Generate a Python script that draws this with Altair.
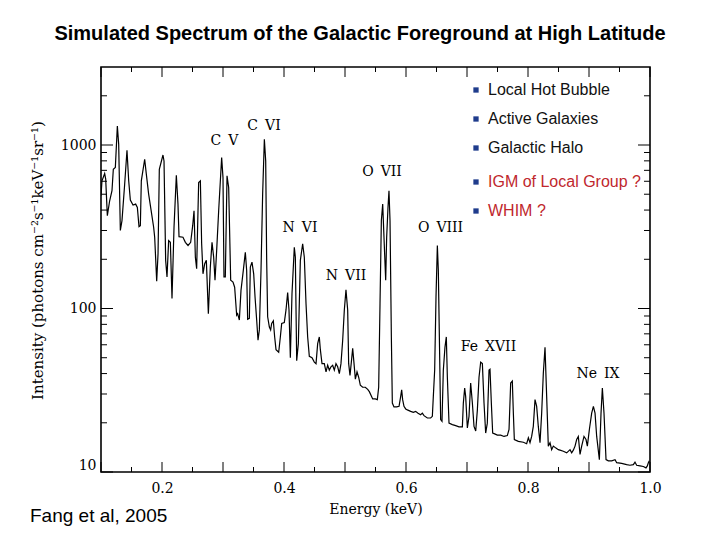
import altair as alt
import pandas as pd

# ---------------------------------------------------------------------------
# Simulated soft X-ray spectrum of the Galactic foreground (0.1 - 1.0 keV)
# ---------------------------------------------------------------------------

energy_low = [
    0.1000, 0.1016, 0.1060, 0.1077, 0.1104, 0.1142, 0.1180, 0.1202, 0.1235, 0.1268,
    0.1290, 0.1317, 0.1344, 0.1388, 0.1426, 0.1454, 0.1481, 0.1525, 0.1568, 0.1596,
    0.1623, 0.1645, 0.1661, 0.1716, 0.1743, 0.1781, 0.1814, 0.1863, 0.1880, 0.1913,
    0.1935, 0.1956, 0.2016, 0.2033, 0.2060, 0.2082, 0.2109, 0.2137, 0.2164, 0.2197,
    0.2235, 0.2262, 0.2279, 0.2344, 0.2383, 0.2427, 0.2470, 0.2503, 0.2525, 0.2547,
    0.2568, 0.2601, 0.2629, 0.2650, 0.2672, 0.2700, 0.2727, 0.2760, 0.2792, 0.2820,
    0.2847, 0.2869, 0.2896, 0.2929, 0.2978, 0.3000, 0.3016, 0.3038, 0.3066, 0.3093,
    0.3126, 0.3164, 0.3191, 0.3224,
]
intensity_low = [
    489, 604, 669, 618, 370, 456, 525, 711, 728, 1305,
    1009, 300, 345, 576, 928, 604, 460, 429, 435, 415,
    317, 321, 604, 818, 663, 501, 415, 314, 273, 147,
    216, 711, 869, 799, 197, 156, 260, 254, 115, 314,
    654, 435, 275, 273, 254, 243, 254, 321, 396, 206,
    175, 590, 604, 249, 163, 188, 197, 93, 179, 254,
    206, 149, 226, 396, 837, 632, 156, 156, 648, 550,
    149, 145, 135, 91,
]

energy_mid = [
    0.3240, 0.3268, 0.3295, 0.3333, 0.3366, 0.3388, 0.3404, 0.3432, 0.3448, 0.3475,
    0.3503, 0.3525, 0.3552, 0.3574, 0.3596, 0.3623, 0.3650, 0.3678, 0.3700, 0.3716,
    0.3732, 0.3760, 0.3781, 0.3798, 0.3825, 0.3847, 0.3869, 0.3913, 0.3940, 0.3962,
    0.4005, 0.4033, 0.4060, 0.4082, 0.4104, 0.4131, 0.4169, 0.4186, 0.4208, 0.4235,
    0.4268, 0.4306, 0.4333, 0.4361, 0.4388, 0.4415, 0.4459, 0.4497, 0.4525, 0.4552,
    0.4579, 0.4596, 0.4623, 0.4661, 0.4689, 0.4716, 0.4743, 0.4770, 0.4798, 0.4825,
    0.4852, 0.4880, 0.4907, 0.4934, 0.4962, 0.4989, 0.5016, 0.5044, 0.5060, 0.5082,
    0.5104, 0.5126, 0.5148, 0.5170, 0.5197, 0.5224, 0.5251, 0.5290, 0.5333, 0.5372,
    0.5399, 0.5454, 0.5497,
]
intensity_mid = [
    93, 85, 129, 171, 221, 171, 86, 87, 179, 192,
    163, 118, 85, 64, 74, 171, 501, 1083, 799, 197,
    89, 77, 74, 81, 84, 67, 56, 54, 67, 81,
    82, 98, 125, 98, 50, 123, 237, 206, 48, 61,
    197, 249, 206, 107, 67, 51, 50, 47, 46, 61,
    67, 56, 46, 46, 41, 45, 42, 44, 45, 42,
    46, 44, 40, 46, 64, 98, 130, 98, 46, 39,
    47, 57, 46, 37, 41, 38, 34, 33, 33, 32,
    31, 28, 28,
]

energy_oxygen = [
    0.5530, 0.5552, 0.5574, 0.5596, 0.5618, 0.5639, 0.5667, 0.5683, 0.5705, 0.5721,
    0.5738, 0.5760, 0.5776, 0.5803, 0.5847, 0.5886, 0.5913, 0.5929, 0.5945, 0.5967,
    0.5995, 0.6022, 0.6077, 0.6120, 0.6158, 0.6197, 0.6240, 0.6268, 0.6295, 0.6350,
    0.6404, 0.6432, 0.6448, 0.6470, 0.6492, 0.6514, 0.6530, 0.6547, 0.6568, 0.6590,
    0.6612, 0.6639, 0.6661, 0.6678, 0.6705, 0.6760, 0.6814, 0.6869, 0.6924, 0.6940,
    0.6962, 0.6978, 0.7006, 0.7033, 0.7060, 0.7088, 0.7115, 0.7143, 0.7170, 0.7197,
    0.7224, 0.7252, 0.7279, 0.7306, 0.7333, 0.7361, 0.7377, 0.7399, 0.7421, 0.7454,
    0.7497, 0.7552, 0.7607, 0.7661, 0.7689, 0.7716, 0.7743,
]
intensity_oxygen = [
    27.7, 33, 107, 345, 435, 273, 149, 273, 416, 525,
    345, 67, 26.4, 25, 25, 25.2, 29, 31.8, 27.7, 25.2,
    24.3, 24, 23.5, 23.2, 23.5, 22.9, 22.4, 22.9, 22.1, 21.4,
    21.4, 21.9, 29, 42, 118, 243, 171, 67, 20.9, 20.4,
    42, 58, 67, 38, 19.9, 19.5, 19.2, 18.9, 18.9, 26.4,
    32.6, 29, 18.6, 21.9, 35, 26.4, 19, 17.8, 24, 38,
    47, 46, 26.4, 17.3, 19.9, 42, 42.5, 26.4, 17.3, 17.1,
    16.8, 16.8, 16.5, 16.7, 18.2, 35, 36,
]

energy_high = [
    0.7760, 0.7776, 0.7842, 0.7924, 0.7978, 0.8006, 0.8033, 0.8060, 0.8087, 0.8115,
    0.8142, 0.8169, 0.8197, 0.8224, 0.8251, 0.8279, 0.8306, 0.8333, 0.8361, 0.8388,
    0.8415, 0.8459, 0.8497, 0.8525, 0.8579, 0.8634, 0.8689, 0.8716, 0.8743, 0.8771,
    0.8798, 0.8825, 0.8853, 0.8880, 0.8918, 0.8951, 0.8973, 0.9006, 0.9044, 0.9072,
    0.9099, 0.9126, 0.9170, 0.9197, 0.9219, 0.9246, 0.9279, 0.9317, 0.9372, 0.9427,
    0.9454, 0.9536, 0.9617, 0.9672, 0.9727, 0.9754, 0.9781, 0.9836, 0.9891, 0.9934,
    0.9956, 0.9973, 0.9989,
]
intensity_high = [
    22.9, 15.8, 15.4, 15.2, 14.9, 16.2, 15.1, 16.5, 19, 27.7,
    25.2, 19, 15.1, 22.9, 40, 58, 29, 14.4, 15.1, 13.7,
    14.4, 14.0, 13.7, 13.6, 13.4, 13.1, 13.7, 13.1, 13.6, 14.4,
    15.8, 16.5, 12.8, 14.4, 16.5, 15.8, 14.4, 18.2, 22.9, 25.2,
    22.9, 16.5, 11.9, 22.9, 32.6, 22.9, 11.9, 11.7, 11.7, 11.9,
    11.4, 11.3, 11.1, 11.0, 11.1, 11.5, 11.0, 10.9, 10.8, 10.6,
    10.9, 11.4, 11.7,
]

# Emission-line identifications and where their names sit (keV, intensity)
line_names = ["C\u2002V", "C\u2002VI", "N\u2002VI", "N\u2002VII", "O\u2002VII",
              "O\u2002VIII", "Fe\u2002XVII", "Ne\u2002IX"]
line_label_energy = [0.3025, 0.3672, 0.4262, 0.5016, 0.5607, 0.6566, 0.7352, 0.9148]
line_label_intensity = [1057, 1305, 312, 157, 685, 312, 58, 40]

# Foreground components
legend_labels = ["Local Hot Bubble", "Active Galaxies", "Galactic Halo",
                 "IGM of Local Group ?", "WHIM ?"]
legend_text_colors = ["#111111", "#111111", "#111111", "#C0272D", "#C0272D"]

# Axis tick positions
x_label_values = [0.2, 0.4, 0.6, 0.8, 1.0]
x_major_ticks = [0.1, 0.2, 0.3, 0.4, 0.5, 0.6, 0.7, 0.8, 0.9, 1.0]
x_minor_ticks = [0.15, 0.25, 0.35, 0.45, 0.55, 0.65, 0.75, 0.85, 0.95]
y_major_ticks = [10, 100, 1000]
y_minor_ticks = [20, 30, 40, 50, 60, 70, 80, 90,
                 200, 300, 400, 500, 600, 700, 800, 900, 2000]

title_text = "Simulated Spectrum of the Galactic Foreground at High Latitude"
credit_text = "Fang et al, 2005"
x_title = "Energy (keV)"
y_title = "Intensity (photons cm\u207b\u00b2s\u207b\u00b9keV\u207b\u00b9sr\u207b\u00b9)"

# ---------------------------------------------------------------------------
spectrum = pd.DataFrame({
    "energy": energy_low + energy_mid + energy_oxygen + energy_high,
    "intensity": intensity_low + intensity_mid + intensity_oxygen + intensity_high,
})
labels_df = pd.DataFrame({"name": line_names, "energy": line_label_energy,
                          "intensity": line_label_intensity})

W, H = 549, 405
SERIF = "DejaVu Serif"
SANS = "Liberation Sans"

x_scale = alt.Scale(domain=[0.1, 1.0], nice=False, zero=False)
y_scale = alt.Scale(type="log", domain=[10, 3000], nice=False)

# One axis definition shared by every layer so the merged axes keep it
x_axis = alt.Axis(
    values=x_label_values, format=".1f", title=x_title,
    ticks=False, domain=False, grid=False, labelFlush=False,
    labelFont=SERIF, labelFontSize=14, labelColor="black", labelPadding=9,
    titleFont=SERIF, titleFontSize=14, titleFontWeight="normal",
    titleColor="black", titleY=37, titleBaseline="middle")
y_axis = alt.Axis(
    values=y_major_ticks, format="d", title=y_title,
    ticks=False, domain=False, grid=False, labelFlush=True,
    labelFont=SERIF, labelFontSize=14, labelColor="black", labelPadding=5,
    titleFont=SERIF, titleFontSize=15, titleFontWeight="normal",
    titleColor="black", titleAngle=-90, titleX=-64, titleY=193,
    titleAlign="center", titleBaseline="middle")


def xq(field):
    return alt.X(field, type="quantitative", scale=x_scale, axis=x_axis, title=x_title)


def yq(field):
    return alt.Y(field, type="quantitative", scale=y_scale, axis=y_axis, title=y_title)


spectrum_line = alt.Chart(spectrum).mark_line(
    color="black", strokeWidth=1.2, clip=True
).encode(x=xq("energy"), y=yq("intensity"))


def x_tick_layer(values, length):
    base = alt.Chart(pd.DataFrame({"e": values})).mark_rule(color="black", strokeWidth=1)
    bottom = base.encode(x=xq("e"), y=alt.value(H), y2=alt.value(H - length))
    top = base.encode(x=xq("e"), y=alt.value(0), y2=alt.value(length))
    return bottom + top


def y_tick_layer(values, length):
    base = alt.Chart(pd.DataFrame({"v": values})).mark_rule(color="black", strokeWidth=1)
    left = base.encode(y=yq("v"), x=alt.value(0), x2=alt.value(length))
    right = base.encode(y=yq("v"), x=alt.value(W), x2=alt.value(W - length))
    return left + right


ticks = (x_tick_layer(x_major_ticks, 10) + x_tick_layer(x_minor_ticks, 5)
         + y_tick_layer(y_major_ticks, 12) + y_tick_layer(y_minor_ticks, 6))

line_labels = alt.Chart(labels_df).mark_text(
    font=SERIF, fontSize=14, color="black", align="center", baseline="middle"
).encode(x=xq("energy"), y=yq("intensity"), text="name:N")

# Component list in the upper right corner
legend_layers = []
for i, (label, color) in enumerate(zip(legend_labels, legend_text_colors)):
    row_y = 23 + 29 * i + (5 if i >= 3 else 0)
    row = alt.Chart(pd.DataFrame({"label": [label]}))
    legend_layers.append(
        row.mark_square(size=28, color="#1F3C8C", opacity=1)
        .encode(x=alt.value(375), y=alt.value(row_y))
    )
    legend_layers.append(
        row.mark_text(font=SANS, fontSize=16, color=color, align="left", baseline="middle")
        .encode(x=alt.value(387), y=alt.value(row_y), text="label:N")
    )

title_mark = alt.Chart(pd.DataFrame({"t": [title_text]})).mark_text(
    font=SANS, fontSize=20, fontWeight="bold", color="black",
    align="center", baseline="middle"
).encode(x=alt.value(259), y=alt.value(-33), text="t:N")

credit_mark = alt.Chart(pd.DataFrame({"t": [credit_text]})).mark_text(
    font=SANS, fontSize=19, color="black", align="left", baseline="middle"
).encode(x=alt.value(-71), y=alt.value(449), text="t:N")

chart = alt.layer(
    spectrum_line, ticks, line_labels, *legend_layers, title_mark, credit_mark
).properties(
    width=W, height=H,
    padding={"left": 101, "top": 67, "right": 70, "bottom": 68},
    autosize=alt.AutoSizeParams(type="none"),
    background="white",
).configure_view(stroke="black", strokeWidth=1.6)

chart.save("out.html", embed_options={"renderer": "svg", "actions": False})
